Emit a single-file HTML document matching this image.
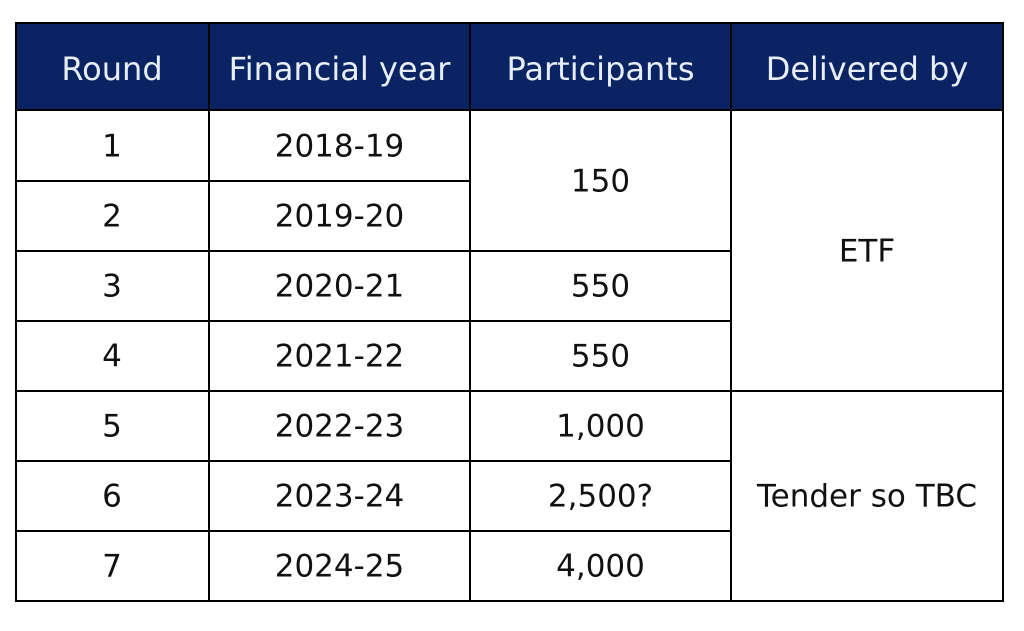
<!DOCTYPE html>
<html><head><meta charset="utf-8"><style>
body{margin:0;width:1024px;height:631px;background:#fff;position:relative;overflow:hidden;font-family:"DejaVu Sans","Liberation Sans",sans-serif;}
.h{position:absolute;background:#000;height:2px}
.v{position:absolute;background:#000;width:2px}
.t{position:absolute;text-align:center;font-size:31px;color:#111;transform:translateY(-50%);line-height:1;white-space:nowrap}
.hd{color:#e8eef8;font-size:32px}
</style></head><body>
<div style="position:absolute;left:15px;top:23px;width:988px;height:88px;background:#0a2463"></div>
<div class="h" style="left:15px;top:22px;width:989px"></div>
<div class="h" style="left:15px;top:600px;width:989px"></div>
<div class="v" style="left:15px;top:22px;height:580px"></div>
<div class="v" style="left:1002px;top:22px;height:580px"></div>
<div class="v" style="left:208px;top:22px;height:580px"></div>
<div class="v" style="left:469px;top:22px;height:580px"></div>
<div class="v" style="left:730px;top:22px;height:580px"></div>
<div class="h" style="left:15px;top:109px;width:989px"></div>
<div class="h" style="left:15px;top:180px;width:455px"></div>
<div class="h" style="left:15px;top:250px;width:716px"></div>
<div class="h" style="left:15px;top:320px;width:716px"></div>
<div class="h" style="left:15px;top:390px;width:989px"></div>
<div class="h" style="left:15px;top:460px;width:716px"></div>
<div class="h" style="left:15px;top:530px;width:716px"></div>
<div class="t hd" style="left:15px;width:194px;top:69px">Round</div>
<div class="t hd" style="left:209px;width:261px;top:69px">Financial year</div>
<div class="t hd" style="left:470px;width:261px;top:69px">Participants</div>
<div class="t hd" style="left:731px;width:272px;top:69px">Delivered by</div>
<div class="t" style="left:15px;width:194px;top:147px">1</div>
<div class="t" style="left:209px;width:261px;top:147px">2018-19</div>
<div class="t" style="left:15px;width:194px;top:217px">2</div>
<div class="t" style="left:209px;width:261px;top:217px">2019-20</div>
<div class="t" style="left:15px;width:194px;top:287px">3</div>
<div class="t" style="left:209px;width:261px;top:287px">2020-21</div>
<div class="t" style="left:15px;width:194px;top:357px">4</div>
<div class="t" style="left:209px;width:261px;top:357px">2021-22</div>
<div class="t" style="left:15px;width:194px;top:427px">5</div>
<div class="t" style="left:209px;width:261px;top:427px">2022-23</div>
<div class="t" style="left:15px;width:194px;top:497px">6</div>
<div class="t" style="left:209px;width:261px;top:497px">2023-24</div>
<div class="t" style="left:15px;width:194px;top:567px">7</div>
<div class="t" style="left:209px;width:261px;top:567px">2024-25</div>
<div class="t" style="left:470px;width:261px;top:182px">150</div>
<div class="t" style="left:470px;width:261px;top:287px">550</div>
<div class="t" style="left:470px;width:261px;top:357px">550</div>
<div class="t" style="left:470px;width:261px;top:427px">1,000</div>
<div class="t" style="left:470px;width:261px;top:497px">2,500?</div>
<div class="t" style="left:470px;width:261px;top:567px">4,000</div>
<div class="t" style="left:731px;width:272px;top:252px">ETF</div>
<div class="t" style="left:731px;width:272px;top:497px">Tender so TBC</div>
</body></html>
